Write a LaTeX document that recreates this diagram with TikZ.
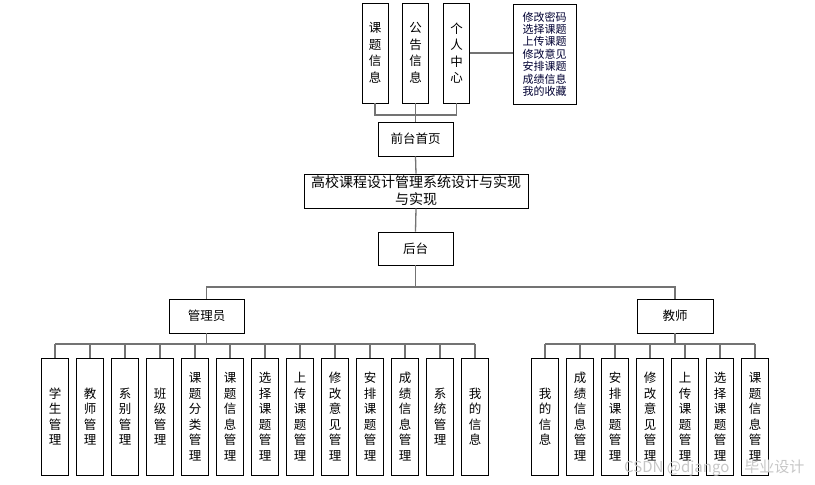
\documentclass[tikz,border=0pt]{standalone}
\usepackage{fontspec}
\setmainfont{Noto Sans CJK SC}
\begin{document}
\begin{tikzpicture}[x=1pt,y=-1pt,
  box/.style={draw=black,line width=0.9pt,fill=white,inner sep=0pt,align=center},
  vbox/.style={box,minimum width=27pt,minimum height=117pt,font=\fontsize{12.5}{15.5}\selectfont},
  tbox/.style={box,minimum width=26pt,minimum height=100pt,font=\fontsize{12.5}{16.5}\selectfont},
  hbox/.style={box,minimum width=75pt,minimum height=34pt,font=\fontsize{12.5}{15}\selectfont},
  conn/.style={draw=black!55,line width=1.3pt}]
\useasboundingbox[fill=white] (0,0) rectangle (815,485);

% top row
\node[tbox] (k1) at (375,53) {课\\题\\信\\息};
\node[tbox] (k2) at (415.5,53) {公\\告\\信\\息};
\node[tbox] (k3) at (456.5,53) {个\\人\\中\\心};
\node[box,minimum width=63pt,minimum height=100pt,font=\fontsize{11}{12.4}\selectfont,text=black!80!blue] (lst) at (544.5,54) {修改密码\\选择课题\\上传课题\\修改意见\\安排课题\\成绩信息\\我的收藏};

\node[hbox] (front) at (415.5,139) {前台首页};
\node[box,minimum width=224pt,minimum height=34pt,font=\fontsize{14}{17}\selectfont] (title) at (416,191) {高校课程设计管理系统设计与实现\\与实现};
\node[hbox,minimum height=33pt] (back) at (415.5,248.5) {后台};
\node[hbox] (admin) at (206.5,316) {管理员};
\node[hbox,minimum width=76pt] (teach) at (675,316) {教师};

% admin children
\foreach \t [count=\i from 0] in {学\\生\\管\\理, 教\\师\\管\\理, 系\\别\\管\\理, 班\\级\\管\\理, 课\\题\\分\\类\\管\\理, 课\\题\\信\\息\\管\\理, 选\\择\\课\\题\\管\\理, 上\\传\\课\\题\\管\\理, 修\\改\\意\\见\\管\\理, 安\\排\\课\\题\\管\\理, 成\\绩\\信\\息\\管\\理, 系\\统\\管\\理, 我\\的\\信\\息}
  \node[vbox] (a\i) at ({55+35*\i},416.5) {\t};
% teacher children
\foreach \t [count=\i from 0] in {我\\的\\信\\息, 成\\绩\\信\\息\\管\\理, 安\\排\\课\\题\\管\\理, 修\\改\\意\\见\\管\\理, 上\\传\\课\\题\\管\\理, 选\\择\\课\\题\\管\\理, 课\\题\\信\\息\\管\\理}
  \node[vbox] (t\i) at ({545+35*\i},416.5) {\t};

% connectors
\coordinate (bus1) at (415.5,115);
\draw[conn] (k1.south) -- (k1.south |- bus1) -- (k3.south |- bus1) -- (k3.south);
\draw[conn] (k2.south) -- (bus1) -- (front.north);
\draw[conn] (k3.east) -- (lst.west |- k3.east);
\draw[conn] (front.south) -- (title.north);
\draw[conn] (title.south) -- (back.north);
\coordinate (bus2) at (415.5,287);
\draw[conn] (back.south) -- (bus2);
\draw[conn] (admin.north) -- (admin.north |- bus2) -- (teach.north |- bus2) -- (teach.north);

\coordinate (bus3) at (206.5,344);
\draw[conn] (admin.south) -- (bus3);
\draw[conn] (a0.north |- bus3) -- (a12.north |- bus3);
\foreach \i in {0,...,12} \draw[conn] (a\i.north |- bus3) -- (a\i.north);

\coordinate (bus4) at (675,344);
\draw[conn] (teach.south) -- (bus4);
\draw[conn] (t0.north |- bus4) -- (t6.north |- bus4);
\foreach \i in {0,...,6} \draw[conn] (t\i.north |- bus4) -- (t\i.north);

% watermark
\node[text=black!22,font=\fontsize{15}{17}\selectfont,anchor=west,inner sep=0pt] (wm) at (624,468) {CSDN @django\quad 毕业设计};
\end{tikzpicture}
\end{document}
